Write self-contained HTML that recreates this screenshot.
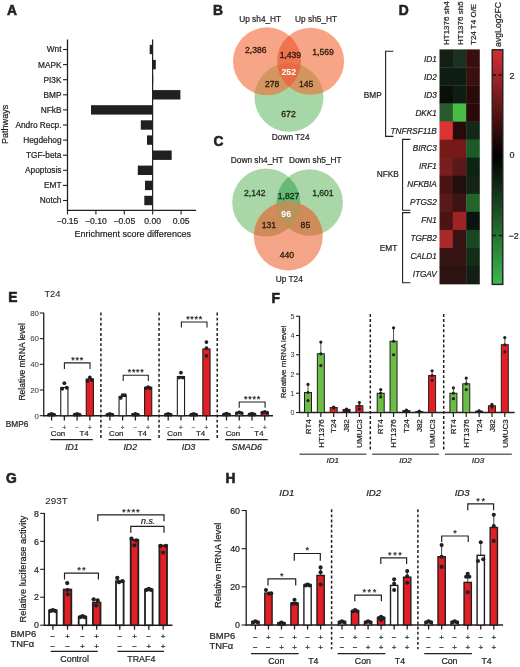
<!DOCTYPE html><html><head><meta charset="utf-8"><title>Figure</title><style>html,body{margin:0;padding:0;background:#fff;width:520px;height:667px;overflow:hidden}svg{display:block}text{font-family:"Liberation Sans",Arial,sans-serif}</style></head><body>
<svg width="520" height="667" viewBox="0 0 520 667"><g fill="#231f20">
<text x="6.90" y="15.30" font-size="13.8" font-weight="bold" stroke="#231f20" stroke-width="0.6">A</text>
<rect x="149.70" y="44.80" width="2.90" height="9.40" fill="#231f20"/>
<line x1="63.00" y1="49.50" x2="67.50" y2="49.50" stroke="#231f20" stroke-width="1.1"/>
<text x="61.50" y="52.40" font-size="8.3" text-anchor="end" stroke="#231f20" stroke-width="0.22">Wnt</text>
<rect x="152.60" y="59.90" width="3.20" height="9.40" fill="#231f20"/>
<line x1="63.00" y1="64.60" x2="67.50" y2="64.60" stroke="#231f20" stroke-width="1.1"/>
<text x="61.50" y="67.50" font-size="8.3" text-anchor="end" stroke="#231f20" stroke-width="0.22">MAPK</text>
<rect x="152.60" y="75.00" width="0.60" height="9.40" fill="#231f20"/>
<line x1="63.00" y1="79.70" x2="67.50" y2="79.70" stroke="#231f20" stroke-width="1.1"/>
<text x="61.50" y="82.60" font-size="8.3" text-anchor="end" stroke="#231f20" stroke-width="0.22">PI3K</text>
<rect x="152.60" y="90.10" width="27.80" height="9.40" fill="#231f20"/>
<line x1="63.00" y1="94.80" x2="67.50" y2="94.80" stroke="#231f20" stroke-width="1.1"/>
<text x="61.50" y="97.70" font-size="8.3" text-anchor="end" stroke="#231f20" stroke-width="0.22">BMP</text>
<rect x="91.00" y="105.20" width="61.60" height="9.40" fill="#231f20"/>
<line x1="63.00" y1="109.90" x2="67.50" y2="109.90" stroke="#231f20" stroke-width="1.1"/>
<text x="61.50" y="112.80" font-size="8.3" text-anchor="end" stroke="#231f20" stroke-width="0.22">NFkB</text>
<rect x="140.80" y="120.30" width="11.80" height="9.40" fill="#231f20"/>
<line x1="63.00" y1="125.00" x2="67.50" y2="125.00" stroke="#231f20" stroke-width="1.1"/>
<text x="61.50" y="127.90" font-size="8.3" text-anchor="end" stroke="#231f20" stroke-width="0.22">Andro Recp.</text>
<rect x="147.00" y="135.40" width="5.60" height="9.40" fill="#231f20"/>
<line x1="63.00" y1="140.10" x2="67.50" y2="140.10" stroke="#231f20" stroke-width="1.1"/>
<text x="61.50" y="143.00" font-size="8.3" text-anchor="end" stroke="#231f20" stroke-width="0.22">Hegdehog</text>
<rect x="152.60" y="150.50" width="19.10" height="9.40" fill="#231f20"/>
<line x1="63.00" y1="155.20" x2="67.50" y2="155.20" stroke="#231f20" stroke-width="1.1"/>
<text x="61.50" y="158.10" font-size="8.3" text-anchor="end" stroke="#231f20" stroke-width="0.22">TGF-beta</text>
<rect x="137.80" y="165.60" width="14.80" height="9.40" fill="#231f20"/>
<line x1="63.00" y1="170.30" x2="67.50" y2="170.30" stroke="#231f20" stroke-width="1.1"/>
<text x="61.50" y="173.20" font-size="8.3" text-anchor="end" stroke="#231f20" stroke-width="0.22">Apoptosis</text>
<rect x="145.00" y="180.70" width="7.60" height="9.40" fill="#231f20"/>
<line x1="63.00" y1="185.40" x2="67.50" y2="185.40" stroke="#231f20" stroke-width="1.1"/>
<text x="61.50" y="188.30" font-size="8.3" text-anchor="end" stroke="#231f20" stroke-width="0.22">EMT</text>
<rect x="144.30" y="195.80" width="8.30" height="9.40" fill="#231f20"/>
<line x1="63.00" y1="200.50" x2="67.50" y2="200.50" stroke="#231f20" stroke-width="1.1"/>
<text x="61.50" y="203.40" font-size="8.3" text-anchor="end" stroke="#231f20" stroke-width="0.22">Notch</text>
<line x1="67.50" y1="39.50" x2="67.50" y2="210.60" stroke="#231f20" stroke-width="1.3"/>
<line x1="66.90" y1="210.30" x2="196.00" y2="210.30" stroke="#231f20" stroke-width="1.2"/>
<line x1="152.60" y1="39.50" x2="152.60" y2="210.00" stroke="#231f20" stroke-width="1.2"/>
<line x1="67.50" y1="210.00" x2="67.50" y2="214.50" stroke="#231f20" stroke-width="1.1"/>
<text x="67.50" y="223.70" font-size="8.6" text-anchor="middle" stroke="#231f20" stroke-width="0.22">−0.15</text>
<line x1="95.90" y1="210.00" x2="95.90" y2="214.50" stroke="#231f20" stroke-width="1.1"/>
<text x="95.90" y="223.70" font-size="8.6" text-anchor="middle" stroke="#231f20" stroke-width="0.22">−0.10</text>
<line x1="124.30" y1="210.00" x2="124.30" y2="214.50" stroke="#231f20" stroke-width="1.1"/>
<text x="124.30" y="223.70" font-size="8.6" text-anchor="middle" stroke="#231f20" stroke-width="0.22">−0.05</text>
<line x1="152.70" y1="210.00" x2="152.70" y2="214.50" stroke="#231f20" stroke-width="1.1"/>
<text x="152.70" y="223.70" font-size="8.6" text-anchor="middle" stroke="#231f20" stroke-width="0.22">0.00</text>
<line x1="181.10" y1="210.00" x2="181.10" y2="214.50" stroke="#231f20" stroke-width="1.1"/>
<text x="181.10" y="223.70" font-size="8.6" text-anchor="middle" stroke="#231f20" stroke-width="0.22">0.05</text>
<text x="132.70" y="237.00" font-size="9.0" text-anchor="middle" stroke="#231f20" stroke-width="0.22">Enrichment score differences</text>
<text transform="translate(7.90,124.40) rotate(-90)" font-size="9.1" text-anchor="middle" stroke="#231f20" stroke-width="0.22">Pathways</text>
<text x="213.10" y="14.60" font-size="13.8" font-weight="bold" stroke="#231f20" stroke-width="0.6">B</text>
<defs><clipPath id="vba"><circle cx="267" cy="61.3" r="34" fill="#000"/></clipPath><clipPath id="vbb"><circle cx="310.6" cy="61.3" r="33.5" fill="#000"/></clipPath></defs>
<circle cx="267" cy="61.3" r="34" fill="#f8a587"/>
<circle cx="310.6" cy="61.3" r="33.5" fill="#f8a587"/>
<circle cx="289" cy="97.3" r="34.5" fill="#a6d7a6"/>
<g clip-path="url(#vba)"><circle cx="310.6" cy="61.3" r="33.5" fill="#ef7450"/><circle cx="289" cy="97.3" r="34.5" fill="#d4965f"/></g>
<g clip-path="url(#vbb)"><circle cx="289" cy="97.3" r="34.5" fill="#d4965f"/></g>
<g clip-path="url(#vba)"><g clip-path="url(#vbb)"><circle cx="289" cy="97.3" r="34.5" fill="#e86c42"/></g></g>
<text x="255.80" y="53.40" font-size="8.6" text-anchor="middle" fill="#2e1a0c" stroke="#2e1a0c" stroke-width="0.32">2,386</text>
<text x="290.40" y="57.60" font-size="8.6" text-anchor="middle" fill="#2e1a0c" stroke="#2e1a0c" stroke-width="0.32">1,439</text>
<text x="323.00" y="54.90" font-size="8.6" text-anchor="middle" fill="#2e1a0c" stroke="#2e1a0c" stroke-width="0.32">1,569</text>
<text x="272.10" y="86.50" font-size="8.6" text-anchor="middle" fill="#2e1a0c" stroke="#2e1a0c" stroke-width="0.32">278</text>
<text x="306.20" y="86.50" font-size="8.6" text-anchor="middle" fill="#2e1a0c" stroke="#2e1a0c" stroke-width="0.32">145</text>
<text x="288.50" y="116.70" font-size="8.6" text-anchor="middle" fill="#2e1a0c" stroke="#2e1a0c" stroke-width="0.32">672</text>
<text x="288.80" y="75.10" font-size="8.8" text-anchor="middle" font-weight="bold" fill="#ffffff">252</text>
<text x="260.20" y="21.70" font-size="8.3" text-anchor="middle" stroke="#231f20" stroke-width="0.22">Up sh4_HT</text>
<text x="316.10" y="21.70" font-size="8.3" text-anchor="middle" stroke="#231f20" stroke-width="0.22">Up sh5_HT</text>
<text x="290.70" y="140.00" font-size="8.3" text-anchor="middle" stroke="#231f20" stroke-width="0.22">Down T24</text>
<text x="213.50" y="146.30" font-size="13.8" font-weight="bold" stroke="#231f20" stroke-width="0.6">C</text>
<defs><clipPath id="vca"><circle cx="266.2" cy="202.5" r="34" fill="#000"/></clipPath><clipPath id="vcb"><circle cx="309.7" cy="202.5" r="33.2" fill="#000"/></clipPath></defs>
<circle cx="266.2" cy="202.5" r="34" fill="#aad7a8"/>
<circle cx="309.7" cy="202.5" r="33.2" fill="#aad7a8"/>
<circle cx="288.3" cy="236" r="34.5" fill="#f5a587"/>
<g clip-path="url(#vca)"><circle cx="309.7" cy="202.5" r="33.2" fill="#68b976"/><circle cx="288.3" cy="236" r="34.5" fill="#cf8c5a"/></g>
<g clip-path="url(#vcb)"><circle cx="288.3" cy="236" r="34.5" fill="#cf8c5a"/></g>
<g clip-path="url(#vca)"><g clip-path="url(#vcb)"><circle cx="288.3" cy="236" r="34.5" fill="#b9935a"/></g></g>
<text x="254.80" y="196.10" font-size="8.6" text-anchor="middle" fill="#173017" stroke="#173017" stroke-width="0.32">2,142</text>
<text x="288.50" y="198.60" font-size="8.6" text-anchor="middle" fill="#142c14" stroke="#142c14" stroke-width="0.32">1,827</text>
<text x="322.90" y="196.30" font-size="8.6" text-anchor="middle" fill="#173017" stroke="#173017" stroke-width="0.32">1,601</text>
<text x="268.80" y="228.40" font-size="8.6" text-anchor="middle" fill="#2e1a0c" stroke="#2e1a0c" stroke-width="0.32">131</text>
<text x="305.40" y="228.40" font-size="8.6" text-anchor="middle" fill="#2e1a0c" stroke="#2e1a0c" stroke-width="0.32">85</text>
<text x="286.90" y="257.80" font-size="8.6" text-anchor="middle" fill="#2e1a0c" stroke="#2e1a0c" stroke-width="0.32">440</text>
<text x="286.20" y="217.00" font-size="8.8" text-anchor="middle" font-weight="bold" fill="#ffffff">96</text>
<text x="257.10" y="163.00" font-size="8.3" text-anchor="middle" stroke="#231f20" stroke-width="0.22">Down sh4_HT</text>
<text x="315.30" y="163.00" font-size="8.3" text-anchor="middle" stroke="#231f20" stroke-width="0.22">Down sh5_HT</text>
<text x="289.30" y="281.60" font-size="8.3" text-anchor="middle" stroke="#231f20" stroke-width="0.22">Up T24</text>
<text x="398.80" y="15.30" font-size="13.8" font-weight="bold" stroke="#231f20" stroke-width="0.6">D</text>
<rect x="439.50" y="49.40" width="13.63" height="18.35" fill="rgb(20,30,20)"/>
<rect x="452.83" y="49.40" width="13.63" height="18.35" fill="rgb(25,50,30)"/>
<rect x="466.16" y="49.40" width="13.63" height="18.35" fill="rgb(55,15,15)"/>
<text x="436.80" y="61.80" font-size="8.2" text-anchor="end" font-style="italic" stroke="#231f20" stroke-width="0.22">ID1</text>
<rect x="439.50" y="67.45" width="13.63" height="18.35" fill="rgb(15,30,20)"/>
<rect x="452.83" y="67.45" width="13.63" height="18.35" fill="rgb(15,30,20)"/>
<rect x="466.16" y="67.45" width="13.63" height="18.35" fill="rgb(60,15,15)"/>
<text x="436.80" y="79.73" font-size="8.2" text-anchor="end" font-style="italic" stroke="#231f20" stroke-width="0.22">ID2</text>
<rect x="439.50" y="85.50" width="13.63" height="18.35" fill="rgb(10,15,10)"/>
<rect x="452.83" y="85.50" width="13.63" height="18.35" fill="rgb(15,30,20)"/>
<rect x="466.16" y="85.50" width="13.63" height="18.35" fill="rgb(40,12,12)"/>
<text x="436.80" y="97.66" font-size="8.2" text-anchor="end" font-style="italic" stroke="#231f20" stroke-width="0.22">ID3</text>
<rect x="439.50" y="103.55" width="13.63" height="18.35" fill="rgb(40,90,45)"/>
<rect x="452.83" y="103.55" width="13.63" height="18.35" fill="rgb(70,190,70)"/>
<rect x="466.16" y="103.55" width="13.63" height="18.35" fill="rgb(40,10,10)"/>
<text x="436.80" y="115.59" font-size="8.2" text-anchor="end" font-style="italic" stroke="#231f20" stroke-width="0.22">DKK1</text>
<rect x="439.50" y="121.60" width="13.63" height="18.35" fill="rgb(220,50,50)"/>
<rect x="452.83" y="121.60" width="13.63" height="18.35" fill="rgb(40,10,10)"/>
<rect x="466.16" y="121.60" width="13.63" height="18.35" fill="rgb(20,40,25)"/>
<text x="436.80" y="133.52" font-size="8.2" text-anchor="end" font-style="italic" stroke="#231f20" stroke-width="0.22">TNFRSF11B</text>
<rect x="439.50" y="139.65" width="13.63" height="18.35" fill="rgb(120,25,25)"/>
<rect x="452.83" y="139.65" width="13.63" height="18.35" fill="rgb(120,25,25)"/>
<rect x="466.16" y="139.65" width="13.63" height="18.35" fill="rgb(30,90,40)"/>
<text x="436.80" y="151.45" font-size="8.2" text-anchor="end" font-style="italic" stroke="#231f20" stroke-width="0.22">BIRC3</text>
<rect x="439.50" y="157.70" width="13.63" height="18.35" fill="rgb(120,30,30)"/>
<rect x="452.83" y="157.70" width="13.63" height="18.35" fill="rgb(90,25,25)"/>
<rect x="466.16" y="157.70" width="13.63" height="18.35" fill="rgb(15,35,20)"/>
<text x="436.80" y="169.38" font-size="8.2" text-anchor="end" font-style="italic" stroke="#231f20" stroke-width="0.22">IRF1</text>
<rect x="439.50" y="175.75" width="13.63" height="18.35" fill="rgb(75,20,20)"/>
<rect x="452.83" y="175.75" width="13.63" height="18.35" fill="rgb(35,15,15)"/>
<rect x="466.16" y="175.75" width="13.63" height="18.35" fill="rgb(20,35,20)"/>
<text x="436.80" y="187.31" font-size="8.2" text-anchor="end" font-style="italic" stroke="#231f20" stroke-width="0.22">NFKBIA</text>
<rect x="439.50" y="193.80" width="13.63" height="18.35" fill="rgb(90,25,25)"/>
<rect x="452.83" y="193.80" width="13.63" height="18.35" fill="rgb(60,20,20)"/>
<rect x="466.16" y="193.80" width="13.63" height="18.35" fill="rgb(35,100,45)"/>
<text x="436.80" y="205.24" font-size="8.2" text-anchor="end" font-style="italic" stroke="#231f20" stroke-width="0.22">PTGS2</text>
<rect x="439.50" y="211.85" width="13.63" height="18.35" fill="rgb(75,20,20)"/>
<rect x="452.83" y="211.85" width="13.63" height="18.35" fill="rgb(160,35,35)"/>
<rect x="466.16" y="211.85" width="13.63" height="18.35" fill="rgb(10,20,15)"/>
<text x="436.80" y="223.17" font-size="8.2" text-anchor="end" font-style="italic" stroke="#231f20" stroke-width="0.22">FN1</text>
<rect x="439.50" y="229.90" width="13.63" height="18.35" fill="rgb(170,40,40)"/>
<rect x="452.83" y="229.90" width="13.63" height="18.35" fill="rgb(55,20,20)"/>
<rect x="466.16" y="229.90" width="13.63" height="18.35" fill="rgb(25,70,35)"/>
<text x="436.80" y="241.10" font-size="8.2" text-anchor="end" font-style="italic" stroke="#231f20" stroke-width="0.22">TGFB2</text>
<rect x="439.50" y="247.95" width="13.63" height="18.35" fill="rgb(55,20,20)"/>
<rect x="452.83" y="247.95" width="13.63" height="18.35" fill="rgb(55,20,20)"/>
<rect x="466.16" y="247.95" width="13.63" height="18.35" fill="rgb(20,45,25)"/>
<text x="436.80" y="259.03" font-size="8.2" text-anchor="end" font-style="italic" stroke="#231f20" stroke-width="0.22">CALD1</text>
<rect x="439.50" y="266.00" width="13.63" height="18.35" fill="rgb(45,18,18)"/>
<rect x="452.83" y="266.00" width="13.63" height="18.35" fill="rgb(45,18,18)"/>
<rect x="466.16" y="266.00" width="13.63" height="18.35" fill="rgb(20,30,20)"/>
<text x="436.80" y="276.96" font-size="8.2" text-anchor="end" font-style="italic" stroke="#231f20" stroke-width="0.22">ITGAV</text>
<text transform="translate(449.17,45.00) rotate(-90)" font-size="8.0" stroke="#231f20" stroke-width="0.22">HT1376 sh4</text>
<text transform="translate(462.50,45.00) rotate(-90)" font-size="8.0" stroke="#231f20" stroke-width="0.22">HT1376 sh5</text>
<text transform="translate(475.83,45.00) rotate(-90)" font-size="8.0" stroke="#231f20" stroke-width="0.22">T24 T4 O/E</text>
<path d="M393.40,51.30 H385.60 V136.40 H393.40" fill="none" stroke="#231f20" stroke-width="1.1"/>
<path d="M410.40,139.40 H402.60 V210.30 H410.40" fill="none" stroke="#231f20" stroke-width="1.1"/>
<path d="M410.40,212.60 H402.60 V282.70 H410.40" fill="none" stroke="#231f20" stroke-width="1.1"/>
<text x="381.70" y="97.60" font-size="8.3" text-anchor="end" stroke="#231f20" stroke-width="0.22">BMP</text>
<text x="398.80" y="177.10" font-size="8.3" text-anchor="end" stroke="#231f20" stroke-width="0.22">NFKB</text>
<text x="397.30" y="250.60" font-size="8.3" text-anchor="end" stroke="#231f20" stroke-width="0.22">EMT</text>
<defs><linearGradient id="cb" x1="0" y1="0" x2="0" y2="1"><stop offset="0" stop-color="rgb(212,48,52)"/><stop offset="0.452" stop-color="rgb(0,0,0)"/><stop offset="1" stop-color="rgb(60,185,80)"/></linearGradient></defs>
<rect x="492.20" y="49.80" width="10.60" height="234.60" fill="url(#cb)" stroke="#231f20" stroke-width="1.4"/>
<line x1="492.80" y1="75.10" x2="502.30" y2="75.10" stroke="#1a0a0a" stroke-width="1.5" stroke-dasharray="3.0 3.0"/>
<line x1="492.80" y1="235.60" x2="502.30" y2="235.60" stroke="#0a1a0a" stroke-width="1.5" stroke-dasharray="3.0 3.0"/>
<text x="509.60" y="78.90" font-size="9.0" stroke="#231f20" stroke-width="0.22">2</text>
<text x="509.60" y="158.30" font-size="9.0" stroke="#231f20" stroke-width="0.22">0</text>
<text x="508.40" y="238.80" font-size="9.0" stroke="#231f20" stroke-width="0.22">−2</text>
<text transform="translate(500.90,46.90) rotate(-90)" font-size="8.7" stroke="#231f20" stroke-width="0.22">avgLog2FC</text>
<text x="8.30" y="302.00" font-size="13.8" font-weight="bold" stroke="#231f20" stroke-width="0.6">E</text>
<text x="44.40" y="297.20" font-size="9.3" stroke="#231f20" stroke-width="0.08">T24</text>
<line x1="43.75" y1="312.80" x2="43.75" y2="416.30" stroke="#231f20" stroke-width="1.3"/>
<line x1="43.15" y1="415.70" x2="273.00" y2="415.70" stroke="#231f20" stroke-width="1.5"/>
<line x1="39.80" y1="415.70" x2="43.75" y2="415.70" stroke="#231f20" stroke-width="1.1"/>
<text x="39.00" y="418.50" font-size="7.9" text-anchor="end" fill="#3a3a3a" stroke="#3a3a3a" stroke-width="0.05">0</text>
<line x1="39.80" y1="390.02" x2="43.75" y2="390.02" stroke="#231f20" stroke-width="1.1"/>
<text x="39.00" y="392.82" font-size="7.9" text-anchor="end" fill="#3a3a3a" stroke="#3a3a3a" stroke-width="0.05">20</text>
<line x1="39.80" y1="364.34" x2="43.75" y2="364.34" stroke="#231f20" stroke-width="1.1"/>
<text x="39.00" y="367.14" font-size="7.9" text-anchor="end" fill="#3a3a3a" stroke="#3a3a3a" stroke-width="0.05">40</text>
<line x1="39.80" y1="338.66" x2="43.75" y2="338.66" stroke="#231f20" stroke-width="1.1"/>
<text x="39.00" y="341.46" font-size="7.9" text-anchor="end" fill="#3a3a3a" stroke="#3a3a3a" stroke-width="0.05">60</text>
<line x1="39.80" y1="312.98" x2="43.75" y2="312.98" stroke="#231f20" stroke-width="1.1"/>
<text x="39.00" y="315.78" font-size="7.9" text-anchor="end" fill="#3a3a3a" stroke="#3a3a3a" stroke-width="0.05">80</text>
<text transform="translate(25.20,361.80) rotate(-90)" font-size="8.5" text-anchor="middle" stroke="#231f20" stroke-width="0.22">Relative mRNA level</text>
<rect x="48.00" y="414.42" width="7.20" height="1.28" fill="#fff" stroke="#231f20" stroke-width="1.1"/>
<line x1="51.60" y1="415.70" x2="51.60" y2="420.50" stroke="#231f20" stroke-width="1.3"/>
<text x="51.60" y="430.00" font-size="6.3" text-anchor="middle" fill="#555" stroke="#555" stroke-width="0.22">−</text>
<circle cx="49.30" cy="414.62" r="1.90" fill="#231f20"/>
<circle cx="51.60" cy="414.02" r="1.90" fill="#231f20"/>
<circle cx="53.90" cy="414.62" r="1.90" fill="#231f20"/>
<rect x="60.75" y="387.45" width="7.20" height="28.25" fill="#fff" stroke="#231f20" stroke-width="1.1"/>
<line x1="64.35" y1="415.70" x2="64.35" y2="420.50" stroke="#231f20" stroke-width="1.3"/>
<text x="64.35" y="430.00" font-size="6.3" text-anchor="middle" fill="#555" stroke="#555" stroke-width="0.22">+</text>
<circle cx="64.35" cy="383.15" r="1.90" fill="#231f20"/>
<circle cx="62.25" cy="388.75" r="1.90" fill="#231f20"/>
<circle cx="66.75" cy="387.75" r="1.90" fill="#231f20"/>
<rect x="73.50" y="414.42" width="7.20" height="1.28" fill="#e31e24" stroke="#231f20" stroke-width="1.1"/>
<line x1="77.10" y1="415.70" x2="77.10" y2="420.50" stroke="#231f20" stroke-width="1.3"/>
<text x="77.10" y="430.00" font-size="6.3" text-anchor="middle" fill="#555" stroke="#555" stroke-width="0.22">−</text>
<circle cx="74.80" cy="414.62" r="1.90" fill="#231f20"/>
<circle cx="77.10" cy="414.02" r="1.90" fill="#231f20"/>
<circle cx="79.40" cy="414.62" r="1.90" fill="#231f20"/>
<rect x="86.25" y="378.98" width="7.20" height="36.72" fill="#e31e24" stroke="#231f20" stroke-width="1.1"/>
<line x1="89.85" y1="415.70" x2="89.85" y2="420.50" stroke="#231f20" stroke-width="1.3"/>
<text x="89.85" y="430.00" font-size="6.3" text-anchor="middle" fill="#555" stroke="#555" stroke-width="0.22">+</text>
<circle cx="89.85" cy="377.38" r="1.90" fill="#231f20"/>
<circle cx="87.45" cy="380.98" r="1.90" fill="#231f20"/>
<circle cx="91.65" cy="379.98" r="1.90" fill="#231f20"/>
<text x="57.97" y="435.80" font-size="7.9" text-anchor="middle" stroke="#231f20" stroke-width="0.22">Con</text>
<text x="84.07" y="435.80" font-size="7.9" text-anchor="middle" stroke="#231f20" stroke-width="0.22">T4</text>
<line x1="50.20" y1="439.60" x2="92.85" y2="439.60" stroke="#231f20" stroke-width="1.3"/>
<text x="71.92" y="450.10" font-size="8.7" text-anchor="middle" font-style="italic" stroke="#231f20" stroke-width="0.22">ID1</text>
<rect x="106.30" y="414.42" width="7.20" height="1.28" fill="#fff" stroke="#231f20" stroke-width="1.1"/>
<line x1="109.90" y1="415.70" x2="109.90" y2="420.50" stroke="#231f20" stroke-width="1.3"/>
<text x="109.90" y="430.00" font-size="6.3" text-anchor="middle" fill="#555" stroke="#555" stroke-width="0.22">−</text>
<circle cx="107.60" cy="414.62" r="1.90" fill="#231f20"/>
<circle cx="109.90" cy="414.02" r="1.90" fill="#231f20"/>
<circle cx="112.20" cy="414.62" r="1.90" fill="#231f20"/>
<rect x="119.05" y="396.44" width="7.20" height="19.26" fill="#fff" stroke="#231f20" stroke-width="1.1"/>
<line x1="122.65" y1="415.70" x2="122.65" y2="420.50" stroke="#231f20" stroke-width="1.3"/>
<text x="122.65" y="430.00" font-size="6.3" text-anchor="middle" fill="#555" stroke="#555" stroke-width="0.22">+</text>
<circle cx="120.75" cy="397.94" r="1.90" fill="#231f20"/>
<circle cx="122.65" cy="395.24" r="1.90" fill="#231f20"/>
<circle cx="124.95" cy="395.24" r="1.90" fill="#231f20"/>
<rect x="131.80" y="414.42" width="7.20" height="1.28" fill="#e31e24" stroke="#231f20" stroke-width="1.1"/>
<line x1="135.40" y1="415.70" x2="135.40" y2="420.50" stroke="#231f20" stroke-width="1.3"/>
<text x="135.40" y="430.00" font-size="6.3" text-anchor="middle" fill="#555" stroke="#555" stroke-width="0.22">−</text>
<circle cx="133.10" cy="414.62" r="1.90" fill="#231f20"/>
<circle cx="135.40" cy="414.02" r="1.90" fill="#231f20"/>
<circle cx="137.70" cy="414.62" r="1.90" fill="#231f20"/>
<rect x="144.55" y="387.45" width="7.20" height="28.25" fill="#e31e24" stroke="#231f20" stroke-width="1.1"/>
<line x1="148.15" y1="415.70" x2="148.15" y2="420.50" stroke="#231f20" stroke-width="1.3"/>
<text x="148.15" y="430.00" font-size="6.3" text-anchor="middle" fill="#555" stroke="#555" stroke-width="0.22">+</text>
<circle cx="146.15" cy="388.05" r="1.90" fill="#231f20"/>
<circle cx="148.15" cy="387.25" r="1.90" fill="#231f20"/>
<circle cx="150.15" cy="388.05" r="1.90" fill="#231f20"/>
<text x="116.28" y="435.80" font-size="7.9" text-anchor="middle" stroke="#231f20" stroke-width="0.22">Con</text>
<text x="142.38" y="435.80" font-size="7.9" text-anchor="middle" stroke="#231f20" stroke-width="0.22">T4</text>
<line x1="108.50" y1="439.60" x2="151.15" y2="439.60" stroke="#231f20" stroke-width="1.3"/>
<text x="130.22" y="450.10" font-size="8.7" text-anchor="middle" font-style="italic" stroke="#231f20" stroke-width="0.22">ID2</text>
<rect x="164.60" y="414.42" width="7.20" height="1.28" fill="#fff" stroke="#231f20" stroke-width="1.1"/>
<line x1="168.20" y1="415.70" x2="168.20" y2="420.50" stroke="#231f20" stroke-width="1.3"/>
<text x="168.20" y="430.00" font-size="6.3" text-anchor="middle" fill="#555" stroke="#555" stroke-width="0.22">−</text>
<circle cx="165.90" cy="414.62" r="1.90" fill="#231f20"/>
<circle cx="168.20" cy="414.02" r="1.90" fill="#231f20"/>
<circle cx="170.50" cy="414.62" r="1.90" fill="#231f20"/>
<rect x="177.35" y="376.54" width="7.20" height="39.16" fill="#fff" stroke="#231f20" stroke-width="1.1"/>
<line x1="180.95" y1="415.70" x2="180.95" y2="420.50" stroke="#231f20" stroke-width="1.3"/>
<text x="180.95" y="430.00" font-size="6.3" text-anchor="middle" fill="#555" stroke="#555" stroke-width="0.22">+</text>
<circle cx="180.95" cy="372.64" r="1.90" fill="#231f20"/>
<circle cx="179.15" cy="377.54" r="1.90" fill="#231f20"/>
<circle cx="182.75" cy="377.54" r="1.90" fill="#231f20"/>
<rect x="190.10" y="414.42" width="7.20" height="1.28" fill="#e31e24" stroke="#231f20" stroke-width="1.1"/>
<line x1="193.70" y1="415.70" x2="193.70" y2="420.50" stroke="#231f20" stroke-width="1.3"/>
<text x="193.70" y="430.00" font-size="6.3" text-anchor="middle" fill="#555" stroke="#555" stroke-width="0.22">−</text>
<circle cx="191.40" cy="414.62" r="1.90" fill="#231f20"/>
<circle cx="193.70" cy="414.02" r="1.90" fill="#231f20"/>
<circle cx="196.00" cy="414.62" r="1.90" fill="#231f20"/>
<rect x="202.85" y="348.93" width="7.20" height="66.77" fill="#e31e24" stroke="#231f20" stroke-width="1.1"/>
<line x1="206.45" y1="415.70" x2="206.45" y2="420.50" stroke="#231f20" stroke-width="1.3"/>
<text x="206.45" y="430.00" font-size="6.3" text-anchor="middle" fill="#555" stroke="#555" stroke-width="0.22">+</text>
<circle cx="206.45" cy="342.03" r="1.90" fill="#231f20"/>
<circle cx="206.45" cy="348.03" r="1.90" fill="#231f20"/>
<circle cx="206.45" cy="355.83" r="1.90" fill="#231f20"/>
<text x="174.57" y="435.80" font-size="7.9" text-anchor="middle" stroke="#231f20" stroke-width="0.22">Con</text>
<text x="200.67" y="435.80" font-size="7.9" text-anchor="middle" stroke="#231f20" stroke-width="0.22">T4</text>
<line x1="166.80" y1="439.60" x2="209.45" y2="439.60" stroke="#231f20" stroke-width="1.3"/>
<text x="188.52" y="450.10" font-size="8.7" text-anchor="middle" font-style="italic" stroke="#231f20" stroke-width="0.22">ID3</text>
<rect x="222.90" y="414.16" width="7.20" height="1.54" fill="#fff" stroke="#231f20" stroke-width="1.1"/>
<line x1="226.50" y1="415.70" x2="226.50" y2="420.50" stroke="#231f20" stroke-width="1.3"/>
<text x="226.50" y="430.00" font-size="6.3" text-anchor="middle" fill="#555" stroke="#555" stroke-width="0.22">−</text>
<circle cx="224.20" cy="414.36" r="1.90" fill="#231f20"/>
<circle cx="226.50" cy="413.76" r="1.90" fill="#231f20"/>
<circle cx="228.80" cy="414.36" r="1.90" fill="#231f20"/>
<rect x="235.65" y="412.88" width="7.20" height="2.82" fill="#fff" stroke="#231f20" stroke-width="1.1"/>
<line x1="239.25" y1="415.70" x2="239.25" y2="420.50" stroke="#231f20" stroke-width="1.3"/>
<text x="239.25" y="430.00" font-size="6.3" text-anchor="middle" fill="#555" stroke="#555" stroke-width="0.22">+</text>
<circle cx="236.95" cy="413.08" r="1.90" fill="#231f20"/>
<circle cx="239.25" cy="412.48" r="1.90" fill="#231f20"/>
<circle cx="241.55" cy="413.08" r="1.90" fill="#231f20"/>
<rect x="248.40" y="414.16" width="7.20" height="1.54" fill="#e31e24" stroke="#231f20" stroke-width="1.1"/>
<line x1="252.00" y1="415.70" x2="252.00" y2="420.50" stroke="#231f20" stroke-width="1.3"/>
<text x="252.00" y="430.00" font-size="6.3" text-anchor="middle" fill="#555" stroke="#555" stroke-width="0.22">−</text>
<circle cx="249.70" cy="414.36" r="1.90" fill="#231f20"/>
<circle cx="252.00" cy="413.76" r="1.90" fill="#231f20"/>
<circle cx="254.30" cy="414.36" r="1.90" fill="#231f20"/>
<rect x="261.15" y="412.36" width="7.20" height="3.34" fill="#e31e24" stroke="#231f20" stroke-width="1.1"/>
<line x1="264.75" y1="415.70" x2="264.75" y2="420.50" stroke="#231f20" stroke-width="1.3"/>
<text x="264.75" y="430.00" font-size="6.3" text-anchor="middle" fill="#555" stroke="#555" stroke-width="0.22">+</text>
<circle cx="262.45" cy="412.56" r="1.90" fill="#231f20"/>
<circle cx="264.75" cy="411.96" r="1.90" fill="#231f20"/>
<circle cx="267.05" cy="412.56" r="1.90" fill="#231f20"/>
<text x="232.87" y="435.80" font-size="7.9" text-anchor="middle" stroke="#231f20" stroke-width="0.22">Con</text>
<text x="258.98" y="435.80" font-size="7.9" text-anchor="middle" stroke="#231f20" stroke-width="0.22">T4</text>
<line x1="225.10" y1="439.60" x2="267.75" y2="439.60" stroke="#231f20" stroke-width="1.3"/>
<text x="246.82" y="450.10" font-size="8.7" text-anchor="middle" font-style="italic" stroke="#231f20" stroke-width="0.22">SMAD6</text>
<line x1="100.90" y1="312.60" x2="100.90" y2="438.20" stroke="#231f20" stroke-width="1.5" stroke-dasharray="2.9 2.2"/>
<line x1="159.05" y1="312.60" x2="159.05" y2="438.20" stroke="#231f20" stroke-width="1.5" stroke-dasharray="2.9 2.2"/>
<line x1="217.20" y1="312.60" x2="217.20" y2="438.20" stroke="#231f20" stroke-width="1.5" stroke-dasharray="2.9 2.2"/>
<path d="M64.40,369.00 V362.90 H90.00 V369.00" fill="none" stroke="#231f20" stroke-width="1.1"/>
<text x="73.00" y="362.94" font-size="9.0" text-anchor="middle" stroke="#231f20" stroke-width="0.22">*</text>
<text x="77.20" y="362.94" font-size="9.0" text-anchor="middle" stroke="#231f20" stroke-width="0.22">*</text>
<text x="81.40" y="362.94" font-size="9.0" text-anchor="middle" stroke="#231f20" stroke-width="0.22">*</text>
<path d="M123.20,381.00 V375.20 H148.30 V381.00" fill="none" stroke="#231f20" stroke-width="1.1"/>
<text x="129.45" y="375.24" font-size="9.0" text-anchor="middle" stroke="#231f20" stroke-width="0.22">*</text>
<text x="133.65" y="375.24" font-size="9.0" text-anchor="middle" stroke="#231f20" stroke-width="0.22">*</text>
<text x="137.85" y="375.24" font-size="9.0" text-anchor="middle" stroke="#231f20" stroke-width="0.22">*</text>
<text x="142.05" y="375.24" font-size="9.0" text-anchor="middle" stroke="#231f20" stroke-width="0.22">*</text>
<path d="M181.40,327.60 V322.00 H207.00 V327.60" fill="none" stroke="#231f20" stroke-width="1.1"/>
<text x="187.90" y="322.04" font-size="9.0" text-anchor="middle" stroke="#231f20" stroke-width="0.22">*</text>
<text x="192.10" y="322.04" font-size="9.0" text-anchor="middle" stroke="#231f20" stroke-width="0.22">*</text>
<text x="196.30" y="322.04" font-size="9.0" text-anchor="middle" stroke="#231f20" stroke-width="0.22">*</text>
<text x="200.50" y="322.04" font-size="9.0" text-anchor="middle" stroke="#231f20" stroke-width="0.22">*</text>
<path d="M239.20,407.70 V402.00 H265.10 V407.70" fill="none" stroke="#231f20" stroke-width="1.1"/>
<text x="245.85" y="402.04" font-size="9.0" text-anchor="middle" stroke="#231f20" stroke-width="0.22">*</text>
<text x="250.05" y="402.04" font-size="9.0" text-anchor="middle" stroke="#231f20" stroke-width="0.22">*</text>
<text x="254.25" y="402.04" font-size="9.0" text-anchor="middle" stroke="#231f20" stroke-width="0.22">*</text>
<text x="258.45" y="402.04" font-size="9.0" text-anchor="middle" stroke="#231f20" stroke-width="0.22">*</text>
<text x="5.80" y="427.10" font-size="8.3" stroke="#231f20" stroke-width="0.22">BMP6</text>
<text x="271.50" y="302.50" font-size="13.8" font-weight="bold" stroke="#231f20" stroke-width="0.6">F</text>
<line x1="299.50" y1="316.00" x2="299.50" y2="413.10" stroke="#231f20" stroke-width="1.3"/>
<line x1="298.90" y1="412.50" x2="514.60" y2="412.50" stroke="#231f20" stroke-width="1.4"/>
<line x1="296.00" y1="412.50" x2="299.50" y2="412.50" stroke="#231f20" stroke-width="1.1"/>
<text x="294.60" y="415.10" font-size="7.2" text-anchor="end" fill="#3a3a3a" stroke="#3a3a3a" stroke-width="0.05">0</text>
<line x1="296.00" y1="393.25" x2="299.50" y2="393.25" stroke="#231f20" stroke-width="1.1"/>
<text x="294.60" y="395.85" font-size="7.2" text-anchor="end" fill="#3a3a3a" stroke="#3a3a3a" stroke-width="0.05">1</text>
<line x1="296.00" y1="374.00" x2="299.50" y2="374.00" stroke="#231f20" stroke-width="1.1"/>
<text x="294.60" y="376.60" font-size="7.2" text-anchor="end" fill="#3a3a3a" stroke="#3a3a3a" stroke-width="0.05">2</text>
<line x1="296.00" y1="354.75" x2="299.50" y2="354.75" stroke="#231f20" stroke-width="1.1"/>
<text x="294.60" y="357.35" font-size="7.2" text-anchor="end" fill="#3a3a3a" stroke="#3a3a3a" stroke-width="0.05">3</text>
<line x1="296.00" y1="335.50" x2="299.50" y2="335.50" stroke="#231f20" stroke-width="1.1"/>
<text x="294.60" y="338.10" font-size="7.2" text-anchor="end" fill="#3a3a3a" stroke="#3a3a3a" stroke-width="0.05">4</text>
<line x1="296.00" y1="316.25" x2="299.50" y2="316.25" stroke="#231f20" stroke-width="1.1"/>
<text x="294.60" y="318.85" font-size="7.2" text-anchor="end" fill="#3a3a3a" stroke="#3a3a3a" stroke-width="0.05">5</text>
<text transform="translate(285.60,361.90) rotate(-90)" font-size="8.0" text-anchor="middle" stroke="#231f20" stroke-width="0.22">Relative mRNA level</text>
<line x1="308.00" y1="392.48" x2="308.00" y2="384.39" stroke="#555" stroke-width="1.0"/>
<rect x="304.50" y="392.48" width="7.00" height="20.02" fill="#6cbd45" stroke="#231f20" stroke-width="1.0"/>
<line x1="308.00" y1="412.50" x2="308.00" y2="417.00" stroke="#231f20" stroke-width="1.2"/>
<circle cx="308.00" cy="384.39" r="1.60" fill="#231f20"/>
<circle cx="308.00" cy="400.56" r="1.60" fill="#231f20"/>
<circle cx="308.00" cy="392.48" r="1.60" fill="#231f20"/>
<text transform="translate(310.70,419.20) rotate(-90)" font-size="8.0" text-anchor="end" stroke="#231f20" stroke-width="0.22">RT4</text>
<line x1="320.85" y1="353.79" x2="320.85" y2="342.05" stroke="#555" stroke-width="1.0"/>
<rect x="317.35" y="353.79" width="7.00" height="58.71" fill="#6cbd45" stroke="#231f20" stroke-width="1.0"/>
<line x1="320.85" y1="412.50" x2="320.85" y2="417.00" stroke="#231f20" stroke-width="1.2"/>
<circle cx="320.85" cy="342.05" r="1.60" fill="#231f20"/>
<circle cx="320.85" cy="365.53" r="1.60" fill="#231f20"/>
<circle cx="320.85" cy="353.79" r="1.60" fill="#231f20"/>
<text transform="translate(323.55,419.20) rotate(-90)" font-size="8.0" text-anchor="end" stroke="#231f20" stroke-width="0.22">HT1376</text>
<rect x="330.20" y="407.50" width="7.00" height="5.00" fill="#e31e24" stroke="#231f20" stroke-width="1.0"/>
<line x1="333.70" y1="412.50" x2="333.70" y2="417.00" stroke="#231f20" stroke-width="1.2"/>
<circle cx="333.70" cy="407.11" r="1.60" fill="#231f20"/>
<circle cx="333.70" cy="407.88" r="1.60" fill="#231f20"/>
<circle cx="333.70" cy="407.50" r="1.60" fill="#231f20"/>
<text transform="translate(336.40,419.20) rotate(-90)" font-size="8.0" text-anchor="end" stroke="#231f20" stroke-width="0.22">T24</text>
<rect x="343.05" y="409.42" width="7.00" height="3.08" fill="#3a1a1a" stroke="#231f20" stroke-width="1.0"/>
<line x1="346.55" y1="412.50" x2="346.55" y2="417.00" stroke="#231f20" stroke-width="1.2"/>
<circle cx="346.55" cy="409.04" r="1.60" fill="#231f20"/>
<circle cx="346.55" cy="409.81" r="1.60" fill="#231f20"/>
<circle cx="346.55" cy="409.42" r="1.60" fill="#231f20"/>
<text transform="translate(349.25,419.20) rotate(-90)" font-size="8.0" text-anchor="end" stroke="#231f20" stroke-width="0.22">J82</text>
<line x1="359.40" y1="405.76" x2="359.40" y2="402.49" stroke="#555" stroke-width="1.0"/>
<rect x="355.90" y="405.76" width="7.00" height="6.74" fill="#e31e24" stroke="#231f20" stroke-width="1.0"/>
<line x1="359.40" y1="412.50" x2="359.40" y2="417.00" stroke="#231f20" stroke-width="1.2"/>
<circle cx="359.40" cy="402.49" r="1.60" fill="#231f20"/>
<circle cx="359.40" cy="409.04" r="1.60" fill="#231f20"/>
<circle cx="359.40" cy="405.76" r="1.60" fill="#231f20"/>
<text transform="translate(362.10,419.20) rotate(-90)" font-size="8.0" text-anchor="end" stroke="#231f20" stroke-width="0.22">UMUC3</text>
<line x1="299.50" y1="454.20" x2="366.40" y2="454.20" stroke="#666" stroke-width="1.4"/>
<text x="332.70" y="463.40" font-size="8.0" text-anchor="middle" font-style="italic" stroke="#231f20" stroke-width="0.22">ID1</text>
<line x1="380.70" y1="393.25" x2="380.70" y2="389.59" stroke="#555" stroke-width="1.0"/>
<rect x="377.20" y="393.25" width="7.00" height="19.25" fill="#6cbd45" stroke="#231f20" stroke-width="1.0"/>
<line x1="380.70" y1="412.50" x2="380.70" y2="417.00" stroke="#231f20" stroke-width="1.2"/>
<circle cx="380.70" cy="389.59" r="1.60" fill="#231f20"/>
<circle cx="380.70" cy="396.91" r="1.60" fill="#231f20"/>
<circle cx="380.70" cy="393.25" r="1.60" fill="#231f20"/>
<text transform="translate(383.40,419.20) rotate(-90)" font-size="8.0" text-anchor="end" stroke="#231f20" stroke-width="0.22">RT4</text>
<line x1="393.55" y1="341.27" x2="393.55" y2="327.80" stroke="#555" stroke-width="1.0"/>
<rect x="390.05" y="341.27" width="7.00" height="71.23" fill="#6cbd45" stroke="#231f20" stroke-width="1.0"/>
<line x1="393.55" y1="412.50" x2="393.55" y2="417.00" stroke="#231f20" stroke-width="1.2"/>
<circle cx="393.55" cy="327.80" r="1.60" fill="#231f20"/>
<circle cx="393.55" cy="354.75" r="1.60" fill="#231f20"/>
<circle cx="393.55" cy="341.27" r="1.60" fill="#231f20"/>
<text transform="translate(396.25,419.20) rotate(-90)" font-size="8.0" text-anchor="end" stroke="#231f20" stroke-width="0.22">HT1376</text>
<rect x="402.90" y="410.57" width="7.00" height="1.93" fill="#3a1a1a" stroke="#231f20" stroke-width="1.0"/>
<line x1="406.40" y1="412.50" x2="406.40" y2="417.00" stroke="#231f20" stroke-width="1.2"/>
<circle cx="406.40" cy="410.19" r="1.60" fill="#231f20"/>
<circle cx="406.40" cy="410.96" r="1.60" fill="#231f20"/>
<circle cx="406.40" cy="410.57" r="1.60" fill="#231f20"/>
<text transform="translate(409.10,419.20) rotate(-90)" font-size="8.0" text-anchor="end" stroke="#231f20" stroke-width="0.22">T24</text>
<rect x="415.75" y="411.54" width="7.00" height="0.96" fill="#3a1a1a" stroke="#231f20" stroke-width="1.0"/>
<line x1="419.25" y1="412.50" x2="419.25" y2="417.00" stroke="#231f20" stroke-width="1.2"/>
<circle cx="419.25" cy="411.15" r="1.60" fill="#231f20"/>
<circle cx="419.25" cy="411.92" r="1.60" fill="#231f20"/>
<circle cx="419.25" cy="411.54" r="1.60" fill="#231f20"/>
<text transform="translate(421.95,419.20) rotate(-90)" font-size="8.0" text-anchor="end" stroke="#231f20" stroke-width="0.22">J82</text>
<line x1="432.10" y1="375.54" x2="432.10" y2="370.73" stroke="#555" stroke-width="1.0"/>
<rect x="428.60" y="375.54" width="7.00" height="36.96" fill="#e31e24" stroke="#231f20" stroke-width="1.0"/>
<line x1="432.10" y1="412.50" x2="432.10" y2="417.00" stroke="#231f20" stroke-width="1.2"/>
<circle cx="432.10" cy="370.73" r="1.60" fill="#231f20"/>
<circle cx="432.10" cy="380.35" r="1.60" fill="#231f20"/>
<circle cx="432.10" cy="375.54" r="1.60" fill="#231f20"/>
<text transform="translate(434.80,419.20) rotate(-90)" font-size="8.0" text-anchor="end" stroke="#231f20" stroke-width="0.22">UMUC3</text>
<line x1="372.20" y1="454.20" x2="439.10" y2="454.20" stroke="#666" stroke-width="1.4"/>
<text x="405.40" y="463.40" font-size="8.0" text-anchor="middle" font-style="italic" stroke="#231f20" stroke-width="0.22">ID2</text>
<line x1="453.40" y1="393.25" x2="453.40" y2="387.86" stroke="#555" stroke-width="1.0"/>
<rect x="449.90" y="393.25" width="7.00" height="19.25" fill="#6cbd45" stroke="#231f20" stroke-width="1.0"/>
<line x1="453.40" y1="412.50" x2="453.40" y2="417.00" stroke="#231f20" stroke-width="1.2"/>
<circle cx="453.40" cy="387.86" r="1.60" fill="#231f20"/>
<circle cx="453.40" cy="398.64" r="1.60" fill="#231f20"/>
<circle cx="453.40" cy="393.25" r="1.60" fill="#231f20"/>
<text transform="translate(456.10,419.20) rotate(-90)" font-size="8.0" text-anchor="end" stroke="#231f20" stroke-width="0.22">RT4</text>
<line x1="466.25" y1="383.82" x2="466.25" y2="378.04" stroke="#555" stroke-width="1.0"/>
<rect x="462.75" y="383.82" width="7.00" height="28.68" fill="#6cbd45" stroke="#231f20" stroke-width="1.0"/>
<line x1="466.25" y1="412.50" x2="466.25" y2="417.00" stroke="#231f20" stroke-width="1.2"/>
<circle cx="466.25" cy="378.04" r="1.60" fill="#231f20"/>
<circle cx="466.25" cy="389.59" r="1.60" fill="#231f20"/>
<circle cx="466.25" cy="383.82" r="1.60" fill="#231f20"/>
<text transform="translate(468.95,419.20) rotate(-90)" font-size="8.0" text-anchor="end" stroke="#231f20" stroke-width="0.22">HT1376</text>
<rect x="475.60" y="411.15" width="7.00" height="1.35" fill="#3a1a1a" stroke="#231f20" stroke-width="1.0"/>
<line x1="479.10" y1="412.50" x2="479.10" y2="417.00" stroke="#231f20" stroke-width="1.2"/>
<circle cx="479.10" cy="410.77" r="1.60" fill="#231f20"/>
<circle cx="479.10" cy="411.54" r="1.60" fill="#231f20"/>
<circle cx="479.10" cy="411.15" r="1.60" fill="#231f20"/>
<text transform="translate(481.80,419.20) rotate(-90)" font-size="8.0" text-anchor="end" stroke="#231f20" stroke-width="0.22">T24</text>
<line x1="491.95" y1="405.76" x2="491.95" y2="404.42" stroke="#555" stroke-width="1.0"/>
<rect x="488.45" y="405.76" width="7.00" height="6.74" fill="#e31e24" stroke="#231f20" stroke-width="1.0"/>
<line x1="491.95" y1="412.50" x2="491.95" y2="417.00" stroke="#231f20" stroke-width="1.2"/>
<circle cx="491.95" cy="404.42" r="1.60" fill="#231f20"/>
<circle cx="491.95" cy="407.11" r="1.60" fill="#231f20"/>
<circle cx="491.95" cy="405.76" r="1.60" fill="#231f20"/>
<text transform="translate(494.65,419.20) rotate(-90)" font-size="8.0" text-anchor="end" stroke="#231f20" stroke-width="0.22">J82</text>
<line x1="504.80" y1="344.74" x2="504.80" y2="337.62" stroke="#555" stroke-width="1.0"/>
<rect x="501.30" y="344.74" width="7.00" height="67.76" fill="#e31e24" stroke="#231f20" stroke-width="1.0"/>
<line x1="504.80" y1="412.50" x2="504.80" y2="417.00" stroke="#231f20" stroke-width="1.2"/>
<circle cx="504.80" cy="337.62" r="1.60" fill="#231f20"/>
<circle cx="504.80" cy="351.86" r="1.60" fill="#231f20"/>
<circle cx="504.80" cy="344.74" r="1.60" fill="#231f20"/>
<text transform="translate(507.50,419.20) rotate(-90)" font-size="8.0" text-anchor="end" stroke="#231f20" stroke-width="0.22">UMUC3</text>
<line x1="444.90" y1="454.20" x2="511.80" y2="454.20" stroke="#666" stroke-width="1.4"/>
<text x="478.10" y="463.40" font-size="8.0" text-anchor="middle" font-style="italic" stroke="#231f20" stroke-width="0.22">ID3</text>
<line x1="370.30" y1="314.00" x2="370.30" y2="451.00" stroke="#231f20" stroke-width="1.5" stroke-dasharray="2.9 2.2"/>
<line x1="443.70" y1="314.00" x2="443.70" y2="451.00" stroke="#231f20" stroke-width="1.5" stroke-dasharray="2.9 2.2"/>
<text x="5.90" y="483.40" font-size="13.8" font-weight="bold" stroke="#231f20" stroke-width="0.6">G</text>
<text x="45.30" y="504.40" font-size="9.8" stroke="#231f20" stroke-width="0.08">293T</text>
<line x1="44.40" y1="513.00" x2="44.40" y2="625.80" stroke="#231f20" stroke-width="1.3"/>
<line x1="43.80" y1="625.20" x2="172.50" y2="625.20" stroke="#231f20" stroke-width="1.5"/>
<line x1="40.20" y1="625.20" x2="44.40" y2="625.20" stroke="#231f20" stroke-width="1.1"/>
<text x="39.00" y="628.40" font-size="8.8" text-anchor="end" stroke="#231f20" stroke-width="0.22">0</text>
<line x1="40.20" y1="597.25" x2="44.40" y2="597.25" stroke="#231f20" stroke-width="1.1"/>
<text x="39.00" y="600.45" font-size="8.8" text-anchor="end" stroke="#231f20" stroke-width="0.22">2</text>
<line x1="40.20" y1="569.30" x2="44.40" y2="569.30" stroke="#231f20" stroke-width="1.1"/>
<text x="39.00" y="572.50" font-size="8.8" text-anchor="end" stroke="#231f20" stroke-width="0.22">4</text>
<line x1="40.20" y1="541.35" x2="44.40" y2="541.35" stroke="#231f20" stroke-width="1.1"/>
<text x="39.00" y="544.55" font-size="8.8" text-anchor="end" stroke="#231f20" stroke-width="0.22">6</text>
<line x1="40.20" y1="513.40" x2="44.40" y2="513.40" stroke="#231f20" stroke-width="1.1"/>
<text x="39.00" y="516.60" font-size="8.8" text-anchor="end" stroke="#231f20" stroke-width="0.22">8</text>
<text transform="translate(26.40,569.00) rotate(-90)" font-size="9.3" text-anchor="middle" stroke="#231f20" stroke-width="0.22">Relative luciferase activity</text>
<rect x="49.10" y="610.53" width="7.60" height="14.67" fill="#fff" stroke="#231f20" stroke-width="1.8"/>
<line x1="52.90" y1="625.20" x2="52.90" y2="629.70" stroke="#231f20" stroke-width="1.3"/>
<circle cx="50.70" cy="610.93" r="2.15" fill="#231f20"/>
<circle cx="52.90" cy="610.13" r="2.15" fill="#231f20"/>
<circle cx="55.10" cy="610.93" r="2.15" fill="#231f20"/>
<text x="52.90" y="638.50" font-size="8.0" text-anchor="middle" stroke="#231f20" stroke-width="0.22">−</text>
<text x="52.90" y="649.00" font-size="8.0" text-anchor="middle" stroke="#231f20" stroke-width="0.22">−</text>
<rect x="63.70" y="589.56" width="7.60" height="35.64" fill="#e31e24" stroke="#231f20" stroke-width="1.8"/>
<line x1="67.50" y1="625.20" x2="67.50" y2="629.70" stroke="#231f20" stroke-width="1.3"/>
<circle cx="67.20" cy="583.06" r="2.15" fill="#231f20"/>
<circle cx="67.50" cy="590.06" r="2.15" fill="#231f20"/>
<circle cx="67.80" cy="594.36" r="2.15" fill="#231f20"/>
<text x="67.50" y="638.50" font-size="8.0" text-anchor="middle" stroke="#231f20" stroke-width="0.22">+</text>
<text x="67.50" y="649.00" font-size="8.0" text-anchor="middle" stroke="#231f20" stroke-width="0.22">−</text>
<rect x="78.70" y="616.82" width="7.60" height="8.38" fill="#fff" stroke="#231f20" stroke-width="1.8"/>
<line x1="82.50" y1="625.20" x2="82.50" y2="629.70" stroke="#231f20" stroke-width="1.3"/>
<circle cx="80.30" cy="617.22" r="2.15" fill="#231f20"/>
<circle cx="82.50" cy="616.22" r="2.15" fill="#231f20"/>
<circle cx="84.70" cy="617.22" r="2.15" fill="#231f20"/>
<text x="82.50" y="638.50" font-size="8.0" text-anchor="middle" stroke="#231f20" stroke-width="0.22">−</text>
<text x="82.50" y="649.00" font-size="8.0" text-anchor="middle" stroke="#231f20" stroke-width="0.22">+</text>
<rect x="92.90" y="602.56" width="7.60" height="22.64" fill="#e31e24" stroke="#231f20" stroke-width="1.8"/>
<line x1="96.70" y1="625.20" x2="96.70" y2="629.70" stroke="#231f20" stroke-width="1.3"/>
<circle cx="93.70" cy="599.36" r="2.15" fill="#231f20"/>
<circle cx="97.70" cy="600.36" r="2.15" fill="#231f20"/>
<circle cx="96.30" cy="605.56" r="2.15" fill="#231f20"/>
<text x="96.70" y="638.50" font-size="8.0" text-anchor="middle" stroke="#231f20" stroke-width="0.22">+</text>
<text x="96.70" y="649.00" font-size="8.0" text-anchor="middle" stroke="#231f20" stroke-width="0.22">+</text>
<rect x="116.00" y="581.18" width="7.60" height="44.02" fill="#fff" stroke="#231f20" stroke-width="1.8"/>
<line x1="119.80" y1="625.20" x2="119.80" y2="629.70" stroke="#231f20" stroke-width="1.3"/>
<circle cx="117.30" cy="577.98" r="2.15" fill="#231f20"/>
<circle cx="119.00" cy="582.18" r="2.15" fill="#231f20"/>
<circle cx="122.50" cy="581.18" r="2.15" fill="#231f20"/>
<text x="119.80" y="638.50" font-size="8.0" text-anchor="middle" stroke="#231f20" stroke-width="0.22">−</text>
<text x="119.80" y="649.00" font-size="8.0" text-anchor="middle" stroke="#231f20" stroke-width="0.22">−</text>
<rect x="130.70" y="539.95" width="7.60" height="85.25" fill="#e31e24" stroke="#231f20" stroke-width="1.8"/>
<line x1="134.50" y1="625.20" x2="134.50" y2="629.70" stroke="#231f20" stroke-width="1.3"/>
<circle cx="131.50" cy="538.75" r="2.15" fill="#231f20"/>
<circle cx="136.30" cy="540.35" r="2.15" fill="#231f20"/>
<circle cx="134.40" cy="545.35" r="2.15" fill="#231f20"/>
<text x="134.50" y="638.50" font-size="8.0" text-anchor="middle" stroke="#231f20" stroke-width="0.22">+</text>
<text x="134.50" y="649.00" font-size="8.0" text-anchor="middle" stroke="#231f20" stroke-width="0.22">−</text>
<rect x="145.00" y="589.56" width="7.60" height="35.64" fill="#fff" stroke="#231f20" stroke-width="1.8"/>
<line x1="148.80" y1="625.20" x2="148.80" y2="629.70" stroke="#231f20" stroke-width="1.3"/>
<circle cx="146.60" cy="589.96" r="2.15" fill="#231f20"/>
<circle cx="148.80" cy="588.96" r="2.15" fill="#231f20"/>
<circle cx="151.00" cy="589.96" r="2.15" fill="#231f20"/>
<text x="148.80" y="638.50" font-size="8.0" text-anchor="middle" stroke="#231f20" stroke-width="0.22">−</text>
<text x="148.80" y="649.00" font-size="8.0" text-anchor="middle" stroke="#231f20" stroke-width="0.22">+</text>
<rect x="159.40" y="545.54" width="7.60" height="79.66" fill="#e31e24" stroke="#231f20" stroke-width="1.8"/>
<line x1="163.20" y1="625.20" x2="163.20" y2="629.70" stroke="#231f20" stroke-width="1.3"/>
<circle cx="160.50" cy="545.94" r="2.15" fill="#231f20"/>
<circle cx="166.00" cy="545.94" r="2.15" fill="#231f20"/>
<circle cx="163.20" cy="552.54" r="2.15" fill="#231f20"/>
<text x="163.20" y="638.50" font-size="8.0" text-anchor="middle" stroke="#231f20" stroke-width="0.22">+</text>
<text x="163.20" y="649.00" font-size="8.0" text-anchor="middle" stroke="#231f20" stroke-width="0.22">+</text>
<text x="10.60" y="636.60" font-size="9.4" stroke="#231f20" stroke-width="0.22">BMP6</text>
<text x="10.60" y="647.20" font-size="9.4" stroke="#231f20" stroke-width="0.22">TNFα</text>
<line x1="50.80" y1="651.40" x2="97.70" y2="651.40" stroke="#231f20" stroke-width="1.3"/>
<line x1="117.50" y1="651.40" x2="164.00" y2="651.40" stroke="#231f20" stroke-width="1.3"/>
<text x="74.60" y="662.00" font-size="8.9" text-anchor="middle" stroke="#231f20" stroke-width="0.22">Control</text>
<text x="141.30" y="661.60" font-size="8.9" text-anchor="middle" stroke="#231f20" stroke-width="0.22">TRAF4</text>
<path d="M64.50,579.50 V573.10 H98.40 V579.50" fill="none" stroke="#231f20" stroke-width="1.2"/>
<text x="79.10" y="573.48" font-size="9.6" text-anchor="middle" stroke="#231f20" stroke-width="0.22">*</text>
<text x="83.80" y="573.48" font-size="9.6" text-anchor="middle" stroke="#231f20" stroke-width="0.22">*</text>
<path d="M97.80,521.20 V514.80 H164.00 V521.20" fill="none" stroke="#231f20" stroke-width="1.2"/>
<text x="123.85" y="515.18" font-size="9.6" text-anchor="middle" stroke="#231f20" stroke-width="0.22">*</text>
<text x="128.55" y="515.18" font-size="9.6" text-anchor="middle" stroke="#231f20" stroke-width="0.22">*</text>
<text x="133.25" y="515.18" font-size="9.6" text-anchor="middle" stroke="#231f20" stroke-width="0.22">*</text>
<text x="137.95" y="515.18" font-size="9.6" text-anchor="middle" stroke="#231f20" stroke-width="0.22">*</text>
<path d="M130.8,532.8 V526.4 H164 V532.8" fill="none" stroke="#231f20" stroke-width="1.2"/>
<text x="148.20" y="523.70" font-size="8.8" text-anchor="middle" font-style="italic" stroke="#231f20" stroke-width="0.22">n.s.</text>
<text x="225.50" y="483.20" font-size="13.8" font-weight="bold" stroke="#231f20" stroke-width="0.6">H</text>
<text x="286.75" y="496.00" font-size="9.6" text-anchor="middle" font-style="italic" stroke="#231f20" stroke-width="0.22">ID1</text>
<text x="373.60" y="496.00" font-size="9.6" text-anchor="middle" font-style="italic" stroke="#231f20" stroke-width="0.22">ID2</text>
<text x="462.10" y="496.00" font-size="9.6" text-anchor="middle" font-style="italic" stroke="#231f20" stroke-width="0.22">ID3</text>
<line x1="246.20" y1="510.00" x2="246.20" y2="625.60" stroke="#231f20" stroke-width="1.3"/>
<line x1="245.60" y1="625.00" x2="503.10" y2="625.00" stroke="#231f20" stroke-width="1.5"/>
<line x1="241.60" y1="625.00" x2="246.20" y2="625.00" stroke="#231f20" stroke-width="1.1"/>
<text x="240.00" y="628.20" font-size="8.8" text-anchor="end" stroke="#231f20" stroke-width="0.22">0</text>
<line x1="241.60" y1="586.84" x2="246.20" y2="586.84" stroke="#231f20" stroke-width="1.1"/>
<text x="240.00" y="590.04" font-size="8.8" text-anchor="end" stroke="#231f20" stroke-width="0.22">20</text>
<line x1="241.60" y1="548.68" x2="246.20" y2="548.68" stroke="#231f20" stroke-width="1.1"/>
<text x="240.00" y="551.88" font-size="8.8" text-anchor="end" stroke="#231f20" stroke-width="0.22">40</text>
<line x1="241.60" y1="510.52" x2="246.20" y2="510.52" stroke="#231f20" stroke-width="1.1"/>
<text x="240.00" y="513.72" font-size="8.8" text-anchor="end" stroke="#231f20" stroke-width="0.22">60</text>
<text transform="translate(221.00,565.30) rotate(-90)" font-size="9.4" text-anchor="middle" stroke="#231f20" stroke-width="0.22">Relative mRNA level</text>
<rect x="251.75" y="621.50" width="7.30" height="3.50" fill="#fff" stroke="#231f20" stroke-width="1.4"/>
<line x1="255.40" y1="625.00" x2="255.40" y2="629.50" stroke="#231f20" stroke-width="1.3"/>
<circle cx="253.40" cy="622.30" r="2.05" fill="#231f20"/>
<circle cx="255.40" cy="621.20" r="2.05" fill="#231f20"/>
<circle cx="257.40" cy="622.30" r="2.05" fill="#231f20"/>
<text x="255.40" y="639.80" font-size="8.0" text-anchor="middle" stroke="#231f20" stroke-width="0.22">−</text>
<text x="255.40" y="649.50" font-size="8.0" text-anchor="middle" stroke="#231f20" stroke-width="0.22">−</text>
<rect x="264.79" y="593.10" width="7.30" height="31.90" fill="#e31e24" stroke="#231f20" stroke-width="1.4"/>
<line x1="268.44" y1="625.00" x2="268.44" y2="629.50" stroke="#231f20" stroke-width="1.3"/>
<circle cx="265.94" cy="590.10" r="2.05" fill="#231f20"/>
<circle cx="268.94" cy="593.60" r="2.05" fill="#231f20"/>
<circle cx="271.24" cy="593.30" r="2.05" fill="#231f20"/>
<text x="268.44" y="639.80" font-size="8.0" text-anchor="middle" stroke="#231f20" stroke-width="0.22">+</text>
<text x="268.44" y="649.50" font-size="8.0" text-anchor="middle" stroke="#231f20" stroke-width="0.22">−</text>
<rect x="277.83" y="622.80" width="7.30" height="2.20" fill="#fff" stroke="#231f20" stroke-width="1.4"/>
<line x1="281.48" y1="625.00" x2="281.48" y2="629.50" stroke="#231f20" stroke-width="1.3"/>
<circle cx="279.48" cy="623.60" r="2.05" fill="#231f20"/>
<circle cx="281.48" cy="622.50" r="2.05" fill="#231f20"/>
<circle cx="283.48" cy="623.60" r="2.05" fill="#231f20"/>
<text x="281.48" y="639.80" font-size="8.0" text-anchor="middle" stroke="#231f20" stroke-width="0.22">−</text>
<text x="281.48" y="649.50" font-size="8.0" text-anchor="middle" stroke="#231f20" stroke-width="0.22">+</text>
<line x1="294.52" y1="603.10" x2="294.52" y2="599.70" stroke="#444" stroke-width="1.0"/>
<circle cx="294.52" cy="599.70" r="2.05" fill="#231f20"/>
<rect x="290.87" y="603.10" width="7.30" height="21.90" fill="#e31e24" stroke="#231f20" stroke-width="1.4"/>
<line x1="294.52" y1="625.00" x2="294.52" y2="629.50" stroke="#231f20" stroke-width="1.3"/>
<circle cx="292.72" cy="603.70" r="2.05" fill="#231f20"/>
<circle cx="296.32" cy="603.70" r="2.05" fill="#231f20"/>
<text x="294.52" y="639.80" font-size="8.0" text-anchor="middle" stroke="#231f20" stroke-width="0.22">+</text>
<text x="294.52" y="649.50" font-size="8.0" text-anchor="middle" stroke="#231f20" stroke-width="0.22">+</text>
<rect x="303.91" y="584.80" width="7.30" height="40.20" fill="#fff" stroke="#231f20" stroke-width="1.4"/>
<line x1="307.56" y1="625.00" x2="307.56" y2="629.50" stroke="#231f20" stroke-width="1.3"/>
<circle cx="305.56" cy="585.40" r="2.05" fill="#231f20"/>
<circle cx="307.56" cy="584.60" r="2.05" fill="#231f20"/>
<circle cx="309.56" cy="585.40" r="2.05" fill="#231f20"/>
<text x="307.56" y="639.80" font-size="8.0" text-anchor="middle" stroke="#231f20" stroke-width="0.22">−</text>
<text x="307.56" y="649.50" font-size="8.0" text-anchor="middle" stroke="#231f20" stroke-width="0.22">+</text>
<line x1="320.60" y1="575.40" x2="320.60" y2="567.40" stroke="#444" stroke-width="1.0"/>
<circle cx="320.60" cy="567.40" r="2.05" fill="#231f20"/>
<rect x="316.95" y="575.40" width="7.30" height="49.60" fill="#e31e24" stroke="#231f20" stroke-width="1.4"/>
<line x1="320.60" y1="625.00" x2="320.60" y2="629.50" stroke="#231f20" stroke-width="1.3"/>
<circle cx="320.60" cy="572.30" r="2.05" fill="#231f20"/>
<circle cx="320.60" cy="584.60" r="2.05" fill="#231f20"/>
<text x="320.60" y="639.80" font-size="8.0" text-anchor="middle" stroke="#231f20" stroke-width="0.22">+</text>
<text x="320.60" y="649.50" font-size="8.0" text-anchor="middle" stroke="#231f20" stroke-width="0.22">+</text>
<line x1="251.00" y1="653.70" x2="298.72" y2="653.70" stroke="#231f20" stroke-width="1.3"/>
<text x="276.26" y="663.90" font-size="8.8" text-anchor="middle" stroke="#231f20" stroke-width="0.22">Con</text>
<text x="313.38" y="664.40" font-size="8.8" text-anchor="middle" stroke="#231f20" stroke-width="0.22">T4</text>
<rect x="338.35" y="621.50" width="7.30" height="3.50" fill="#fff" stroke="#231f20" stroke-width="1.4"/>
<line x1="342.00" y1="625.00" x2="342.00" y2="629.50" stroke="#231f20" stroke-width="1.3"/>
<circle cx="340.00" cy="622.30" r="2.05" fill="#231f20"/>
<circle cx="342.00" cy="621.20" r="2.05" fill="#231f20"/>
<circle cx="344.00" cy="622.30" r="2.05" fill="#231f20"/>
<text x="342.00" y="639.80" font-size="8.0" text-anchor="middle" stroke="#231f20" stroke-width="0.22">−</text>
<text x="342.00" y="649.50" font-size="8.0" text-anchor="middle" stroke="#231f20" stroke-width="0.22">−</text>
<rect x="351.39" y="610.60" width="7.30" height="14.40" fill="#e31e24" stroke="#231f20" stroke-width="1.4"/>
<line x1="355.04" y1="625.00" x2="355.04" y2="629.50" stroke="#231f20" stroke-width="1.3"/>
<circle cx="353.04" cy="611.20" r="2.05" fill="#231f20"/>
<circle cx="355.04" cy="610.00" r="2.05" fill="#231f20"/>
<circle cx="357.04" cy="611.20" r="2.05" fill="#231f20"/>
<text x="355.04" y="639.80" font-size="8.0" text-anchor="middle" stroke="#231f20" stroke-width="0.22">+</text>
<text x="355.04" y="649.50" font-size="8.0" text-anchor="middle" stroke="#231f20" stroke-width="0.22">−</text>
<rect x="364.43" y="621.50" width="7.30" height="3.50" fill="#fff" stroke="#231f20" stroke-width="1.4"/>
<line x1="368.08" y1="625.00" x2="368.08" y2="629.50" stroke="#231f20" stroke-width="1.3"/>
<circle cx="366.08" cy="622.30" r="2.05" fill="#231f20"/>
<circle cx="368.08" cy="621.20" r="2.05" fill="#231f20"/>
<circle cx="370.08" cy="622.30" r="2.05" fill="#231f20"/>
<text x="368.08" y="639.80" font-size="8.0" text-anchor="middle" stroke="#231f20" stroke-width="0.22">−</text>
<text x="368.08" y="649.50" font-size="8.0" text-anchor="middle" stroke="#231f20" stroke-width="0.22">+</text>
<rect x="377.47" y="617.50" width="7.30" height="7.50" fill="#e31e24" stroke="#231f20" stroke-width="1.4"/>
<line x1="381.12" y1="625.00" x2="381.12" y2="629.50" stroke="#231f20" stroke-width="1.3"/>
<circle cx="379.12" cy="618.10" r="2.05" fill="#231f20"/>
<circle cx="381.12" cy="616.70" r="2.05" fill="#231f20"/>
<circle cx="383.12" cy="618.10" r="2.05" fill="#231f20"/>
<circle cx="381.12" cy="620.00" r="2.05" fill="#231f20"/>
<text x="381.12" y="639.80" font-size="8.0" text-anchor="middle" stroke="#231f20" stroke-width="0.22">+</text>
<text x="381.12" y="649.50" font-size="8.0" text-anchor="middle" stroke="#231f20" stroke-width="0.22">+</text>
<line x1="394.16" y1="585.40" x2="394.16" y2="579.20" stroke="#444" stroke-width="1.0"/>
<circle cx="394.16" cy="579.20" r="2.05" fill="#231f20"/>
<rect x="390.51" y="585.40" width="7.30" height="39.60" fill="#fff" stroke="#231f20" stroke-width="1.4"/>
<line x1="394.16" y1="625.00" x2="394.16" y2="629.50" stroke="#231f20" stroke-width="1.3"/>
<circle cx="394.16" cy="583.80" r="2.05" fill="#231f20"/>
<circle cx="394.16" cy="590.00" r="2.05" fill="#231f20"/>
<text x="394.16" y="639.80" font-size="8.0" text-anchor="middle" stroke="#231f20" stroke-width="0.22">−</text>
<text x="394.16" y="649.50" font-size="8.0" text-anchor="middle" stroke="#231f20" stroke-width="0.22">+</text>
<line x1="407.20" y1="577.20" x2="407.20" y2="571.10" stroke="#444" stroke-width="1.0"/>
<circle cx="407.20" cy="571.10" r="2.05" fill="#231f20"/>
<rect x="403.55" y="577.20" width="7.30" height="47.80" fill="#e31e24" stroke="#231f20" stroke-width="1.4"/>
<line x1="407.20" y1="625.00" x2="407.20" y2="629.50" stroke="#231f20" stroke-width="1.3"/>
<circle cx="407.20" cy="576.20" r="2.05" fill="#231f20"/>
<circle cx="407.20" cy="582.80" r="2.05" fill="#231f20"/>
<text x="407.20" y="639.80" font-size="8.0" text-anchor="middle" stroke="#231f20" stroke-width="0.22">+</text>
<text x="407.20" y="649.50" font-size="8.0" text-anchor="middle" stroke="#231f20" stroke-width="0.22">+</text>
<line x1="337.60" y1="653.70" x2="385.32" y2="653.70" stroke="#231f20" stroke-width="1.3"/>
<text x="362.86" y="663.90" font-size="8.8" text-anchor="middle" stroke="#231f20" stroke-width="0.22">Con</text>
<text x="399.98" y="664.40" font-size="8.8" text-anchor="middle" stroke="#231f20" stroke-width="0.22">T4</text>
<rect x="424.95" y="621.50" width="7.30" height="3.50" fill="#fff" stroke="#231f20" stroke-width="1.4"/>
<line x1="428.60" y1="625.00" x2="428.60" y2="629.50" stroke="#231f20" stroke-width="1.3"/>
<circle cx="426.60" cy="622.30" r="2.05" fill="#231f20"/>
<circle cx="428.60" cy="621.20" r="2.05" fill="#231f20"/>
<circle cx="430.60" cy="622.30" r="2.05" fill="#231f20"/>
<text x="428.60" y="639.80" font-size="8.0" text-anchor="middle" stroke="#231f20" stroke-width="0.22">−</text>
<text x="428.60" y="649.50" font-size="8.0" text-anchor="middle" stroke="#231f20" stroke-width="0.22">−</text>
<line x1="441.64" y1="556.70" x2="441.64" y2="545.10" stroke="#444" stroke-width="1.0"/>
<circle cx="441.64" cy="545.10" r="2.05" fill="#231f20"/>
<rect x="437.99" y="556.70" width="7.30" height="68.30" fill="#e31e24" stroke="#231f20" stroke-width="1.4"/>
<line x1="441.64" y1="625.00" x2="441.64" y2="629.50" stroke="#231f20" stroke-width="1.3"/>
<circle cx="441.64" cy="556.70" r="2.05" fill="#231f20"/>
<circle cx="441.64" cy="566.90" r="2.05" fill="#231f20"/>
<text x="441.64" y="639.80" font-size="8.0" text-anchor="middle" stroke="#231f20" stroke-width="0.22">+</text>
<text x="441.64" y="649.50" font-size="8.0" text-anchor="middle" stroke="#231f20" stroke-width="0.22">−</text>
<rect x="451.03" y="621.50" width="7.30" height="3.50" fill="#fff" stroke="#231f20" stroke-width="1.4"/>
<line x1="454.68" y1="625.00" x2="454.68" y2="629.50" stroke="#231f20" stroke-width="1.3"/>
<circle cx="452.68" cy="622.30" r="2.05" fill="#231f20"/>
<circle cx="454.68" cy="621.20" r="2.05" fill="#231f20"/>
<circle cx="456.68" cy="622.30" r="2.05" fill="#231f20"/>
<text x="454.68" y="639.80" font-size="8.0" text-anchor="middle" stroke="#231f20" stroke-width="0.22">−</text>
<text x="454.68" y="649.50" font-size="8.0" text-anchor="middle" stroke="#231f20" stroke-width="0.22">+</text>
<line x1="467.72" y1="582.40" x2="467.72" y2="573.70" stroke="#444" stroke-width="1.0"/>
<circle cx="467.72" cy="573.70" r="2.05" fill="#231f20"/>
<rect x="464.07" y="582.40" width="7.30" height="42.60" fill="#e31e24" stroke="#231f20" stroke-width="1.4"/>
<line x1="467.72" y1="625.00" x2="467.72" y2="629.50" stroke="#231f20" stroke-width="1.3"/>
<circle cx="466.12" cy="576.80" r="2.05" fill="#231f20"/>
<circle cx="469.32" cy="576.80" r="2.05" fill="#231f20"/>
<circle cx="467.72" cy="592.30" r="2.05" fill="#231f20"/>
<text x="467.72" y="639.80" font-size="8.0" text-anchor="middle" stroke="#231f20" stroke-width="0.22">+</text>
<text x="467.72" y="649.50" font-size="8.0" text-anchor="middle" stroke="#231f20" stroke-width="0.22">+</text>
<line x1="480.76" y1="555.30" x2="480.76" y2="542.30" stroke="#444" stroke-width="1.0"/>
<circle cx="480.76" cy="542.30" r="2.05" fill="#231f20"/>
<rect x="477.11" y="555.30" width="7.30" height="69.70" fill="#fff" stroke="#231f20" stroke-width="1.4"/>
<line x1="480.76" y1="625.00" x2="480.76" y2="629.50" stroke="#231f20" stroke-width="1.3"/>
<circle cx="477.96" cy="561.00" r="2.05" fill="#231f20"/>
<circle cx="483.26" cy="559.30" r="2.05" fill="#231f20"/>
<text x="480.76" y="639.80" font-size="8.0" text-anchor="middle" stroke="#231f20" stroke-width="0.22">−</text>
<text x="480.76" y="649.50" font-size="8.0" text-anchor="middle" stroke="#231f20" stroke-width="0.22">+</text>
<line x1="493.80" y1="527.50" x2="493.80" y2="514.80" stroke="#444" stroke-width="1.0"/>
<circle cx="493.80" cy="514.80" r="2.05" fill="#231f20"/>
<rect x="490.15" y="527.50" width="7.30" height="97.50" fill="#e31e24" stroke="#231f20" stroke-width="1.4"/>
<line x1="493.80" y1="625.00" x2="493.80" y2="629.50" stroke="#231f20" stroke-width="1.3"/>
<circle cx="493.80" cy="526.00" r="2.05" fill="#231f20"/>
<circle cx="493.80" cy="540.90" r="2.05" fill="#231f20"/>
<text x="493.80" y="639.80" font-size="8.0" text-anchor="middle" stroke="#231f20" stroke-width="0.22">+</text>
<text x="493.80" y="649.50" font-size="8.0" text-anchor="middle" stroke="#231f20" stroke-width="0.22">+</text>
<line x1="424.20" y1="653.70" x2="471.92" y2="653.70" stroke="#231f20" stroke-width="1.3"/>
<text x="449.46" y="663.90" font-size="8.8" text-anchor="middle" stroke="#231f20" stroke-width="0.22">Con</text>
<text x="486.58" y="664.40" font-size="8.8" text-anchor="middle" stroke="#231f20" stroke-width="0.22">T4</text>
<text x="209.60" y="638.80" font-size="9.4" stroke="#231f20" stroke-width="0.22">BMP6</text>
<text x="209.60" y="649.40" font-size="9.4" stroke="#231f20" stroke-width="0.22">TNFα</text>
<line x1="331.60" y1="509.30" x2="331.60" y2="649.30" stroke="#231f20" stroke-width="1.5" stroke-dasharray="2.9 2.2"/>
<line x1="417.90" y1="509.30" x2="417.90" y2="649.30" stroke="#231f20" stroke-width="1.5" stroke-dasharray="2.9 2.2"/>
<path d="M268.00,585.40 V578.80 H295.70 V585.40" fill="none" stroke="#231f20" stroke-width="1.2"/>
<text x="281.85" y="578.65" font-size="9.2" text-anchor="middle" stroke="#231f20" stroke-width="0.22">*</text>
<path d="M294.30,560.80 V553.50 H320.30 V560.80" fill="none" stroke="#231f20" stroke-width="1.2"/>
<text x="307.30" y="553.35" font-size="9.2" text-anchor="middle" stroke="#231f20" stroke-width="0.22">*</text>
<path d="M354.80,601.20 V595.10 H381.40 V601.20" fill="none" stroke="#231f20" stroke-width="1.2"/>
<text x="364.30" y="594.95" font-size="9.2" text-anchor="middle" stroke="#231f20" stroke-width="0.22">*</text>
<text x="369.40" y="594.95" font-size="9.2" text-anchor="middle" stroke="#231f20" stroke-width="0.22">*</text>
<text x="374.50" y="594.95" font-size="9.2" text-anchor="middle" stroke="#231f20" stroke-width="0.22">*</text>
<path d="M380.80,564.10 V557.80 H406.60 V564.10" fill="none" stroke="#231f20" stroke-width="1.2"/>
<text x="389.90" y="557.65" font-size="9.2" text-anchor="middle" stroke="#231f20" stroke-width="0.22">*</text>
<text x="395.00" y="557.65" font-size="9.2" text-anchor="middle" stroke="#231f20" stroke-width="0.22">*</text>
<text x="400.10" y="557.65" font-size="9.2" text-anchor="middle" stroke="#231f20" stroke-width="0.22">*</text>
<path d="M441.70,541.90 V536.00 H468.20 V541.90" fill="none" stroke="#231f20" stroke-width="1.2"/>
<text x="454.95" y="535.85" font-size="9.2" text-anchor="middle" stroke="#231f20" stroke-width="0.22">*</text>
<path d="M467.80,510.20 V503.80 H493.60 V510.20" fill="none" stroke="#231f20" stroke-width="1.2"/>
<text x="478.15" y="503.65" font-size="9.2" text-anchor="middle" stroke="#231f20" stroke-width="0.22">*</text>
<text x="483.25" y="503.65" font-size="9.2" text-anchor="middle" stroke="#231f20" stroke-width="0.22">*</text>
</g></svg></body></html>
